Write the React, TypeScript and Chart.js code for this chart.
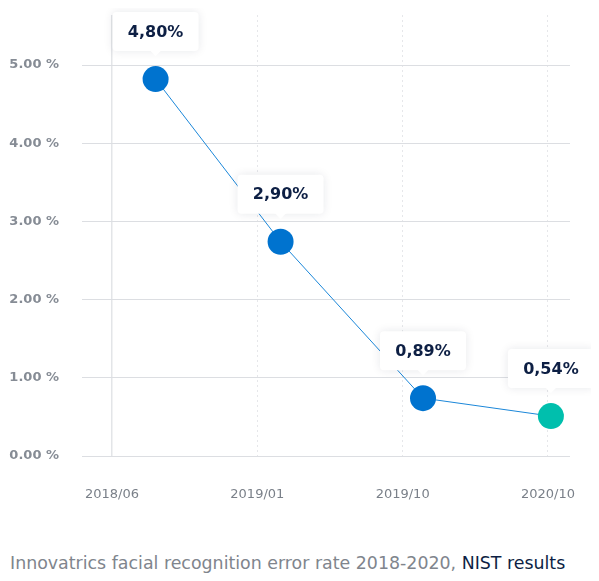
import React, { useEffect, useRef } from 'react'
import { Chart, registerables } from 'chart.js'

Chart.register(...registerables)

// x tick labels (review periods)
const periods = ['2018/06', '2019/01', '2019/10', '2020/10']
// where each measurement sits along the period axis
const pointPositions = [0.3, 1.16, 2.14, 3.02]
// plotted error rate, %
const errorRates = [4.82, 2.74, 0.74, 0.51]
// callout texts
const callouts = ['4,80%', '2,90%', '0,89%', '0,54%']
const yTicks = [0, 1, 2, 3, 4, 5]

const pointColors = ['#0073cf', '#0073cf', '#0073cf', '#00bfad']
const FONT = '"DejaVu Sans", sans-serif'

const calloutPlugin = {
  id: 'callouts',
  afterDatasetsDraw(chart: any) {
    const ctx = chart.ctx
    const meta = chart.getDatasetMeta(0)
    meta.data.forEach((pt: any, i: number) => {
      const w = 86
      const h = 39
      const bottom = pt.y - 28
      const left = pt.x - w / 2
      ctx.save()
      ctx.shadowColor = 'rgba(20, 30, 60, 0.10)'
      ctx.shadowBlur = 10
      ctx.fillStyle = '#ffffff'
      ctx.beginPath()
      ctx.roundRect(left, bottom - h, w, h, 4)
      ctx.fill()
      ctx.shadowColor = 'transparent'
      ctx.beginPath()
      ctx.moveTo(pt.x - 6, bottom - 1)
      ctx.lineTo(pt.x, bottom + 5)
      ctx.lineTo(pt.x + 6, bottom - 1)
      ctx.closePath()
      ctx.fill()
      ctx.fillStyle = '#0d1f44'
      ctx.font = `bold 16px ${FONT}`
      ctx.textAlign = 'center'
      ctx.textBaseline = 'middle'
      ctx.fillText(callouts[i], pt.x, bottom - h / 2 + 1)
      ctx.restore()
    })
  },
}

export default function App() {
  const chartRef = useRef<HTMLCanvasElement | null>(null)
  const chartInstance = useRef<Chart | null>(null)

  useEffect(() => {
    if (!chartRef.current) return
    const ctx = chartRef.current.getContext('2d')
    if (!ctx) return
    if (chartInstance.current) chartInstance.current.destroy()

    chartInstance.current = new Chart(ctx, {
      type: 'line',
      data: {
        datasets: [
          {
            data: pointPositions.map((x, i) => ({ x, y: errorRates[i] })),
            borderColor: '#1b87d9',
            borderWidth: 1,
            pointRadius: 13,
            pointHoverRadius: 13,
            pointBorderWidth: 0,
            pointBackgroundColor: pointColors,
            clip: false as any,
          },
        ],
      },
      options: {
        animation: false,
        responsive: true,
        maintainAspectRatio: false,
        layout: { autoPadding: false, padding: { top: 7, right: 21, left: 0, bottom: 0 } },
        plugins: {
          legend: { display: false },
          tooltip: { enabled: false },
        },
        scales: {
          x: {
            type: 'linear',
            min: -0.2064,
            max: 3.1514,
            afterBuildTicks: (scale: any) => {
              scale.ticks = periods.map((_, i) => ({ value: i }))
            },
            afterFit: (scale: any) => {
              scale.height = 74
              scale.paddingLeft = 0
              scale.paddingRight = 0
            },
            ticks: {
              padding: 31,
              color: '#7a8089',
              font: { family: FONT, size: 13 },
              callback: (v: any) => periods[v] ?? '',
            },
            grid: {
              drawTicks: false,
              color: (c: any) => (c.index === 0 ? '#e3e5e8' : '#e6e7ea'),
              lineWidth: (c: any) => (c.index === 0 ? 1.5 : 1),
            },
            border: {
              display: false,
              dash: (c: any) => (c.index === 0 ? [] : [2, 3]),
            } as any,
          },
          y: {
            min: 0,
            max: 5.64,
            afterBuildTicks: (scale: any) => {
              scale.ticks = yTicks.map((value) => ({ value }))
            },
            afterFit: (scale: any) => {
              scale.width = 74
              scale.paddingTop = 0
              scale.paddingBottom = 0
            },
            ticks: {
              padding: 23,
              color: '#868c95',
              font: { family: FONT, size: 13, weight: 'bold' },
              callback: (v: any) => `${Number(v).toFixed(2)} %`,
            },
            grid: {
              drawTicks: false,
              color: '#dcdee2',
            },
            border: { display: false },
          },
        },
      },
      plugins: [calloutPlugin],
    })

    return () => {
      if (chartInstance.current) {
        chartInstance.current.destroy()
        chartInstance.current = null
      }
    }
  }, [])

  return (
    <div style={{ fontFamily: FONT, position: 'relative', height: 565 }}>
      <div style={{ height: 522, position: 'relative' }}>
        <canvas ref={chartRef} />
      </div>
      <div
        style={{
          position: 'absolute',
          top: 545,
          left: 2,
          fontSize: 17.4,
          lineHeight: '20px',
          color: '#80858d',
          whiteSpace: 'nowrap',
        }}
      >
        Innovatrics facial recognition error rate 2018-2020,{' '}
        <span style={{ color: '#0d1f44' }}>NIST results</span>
      </div>
    </div>
  )
}
